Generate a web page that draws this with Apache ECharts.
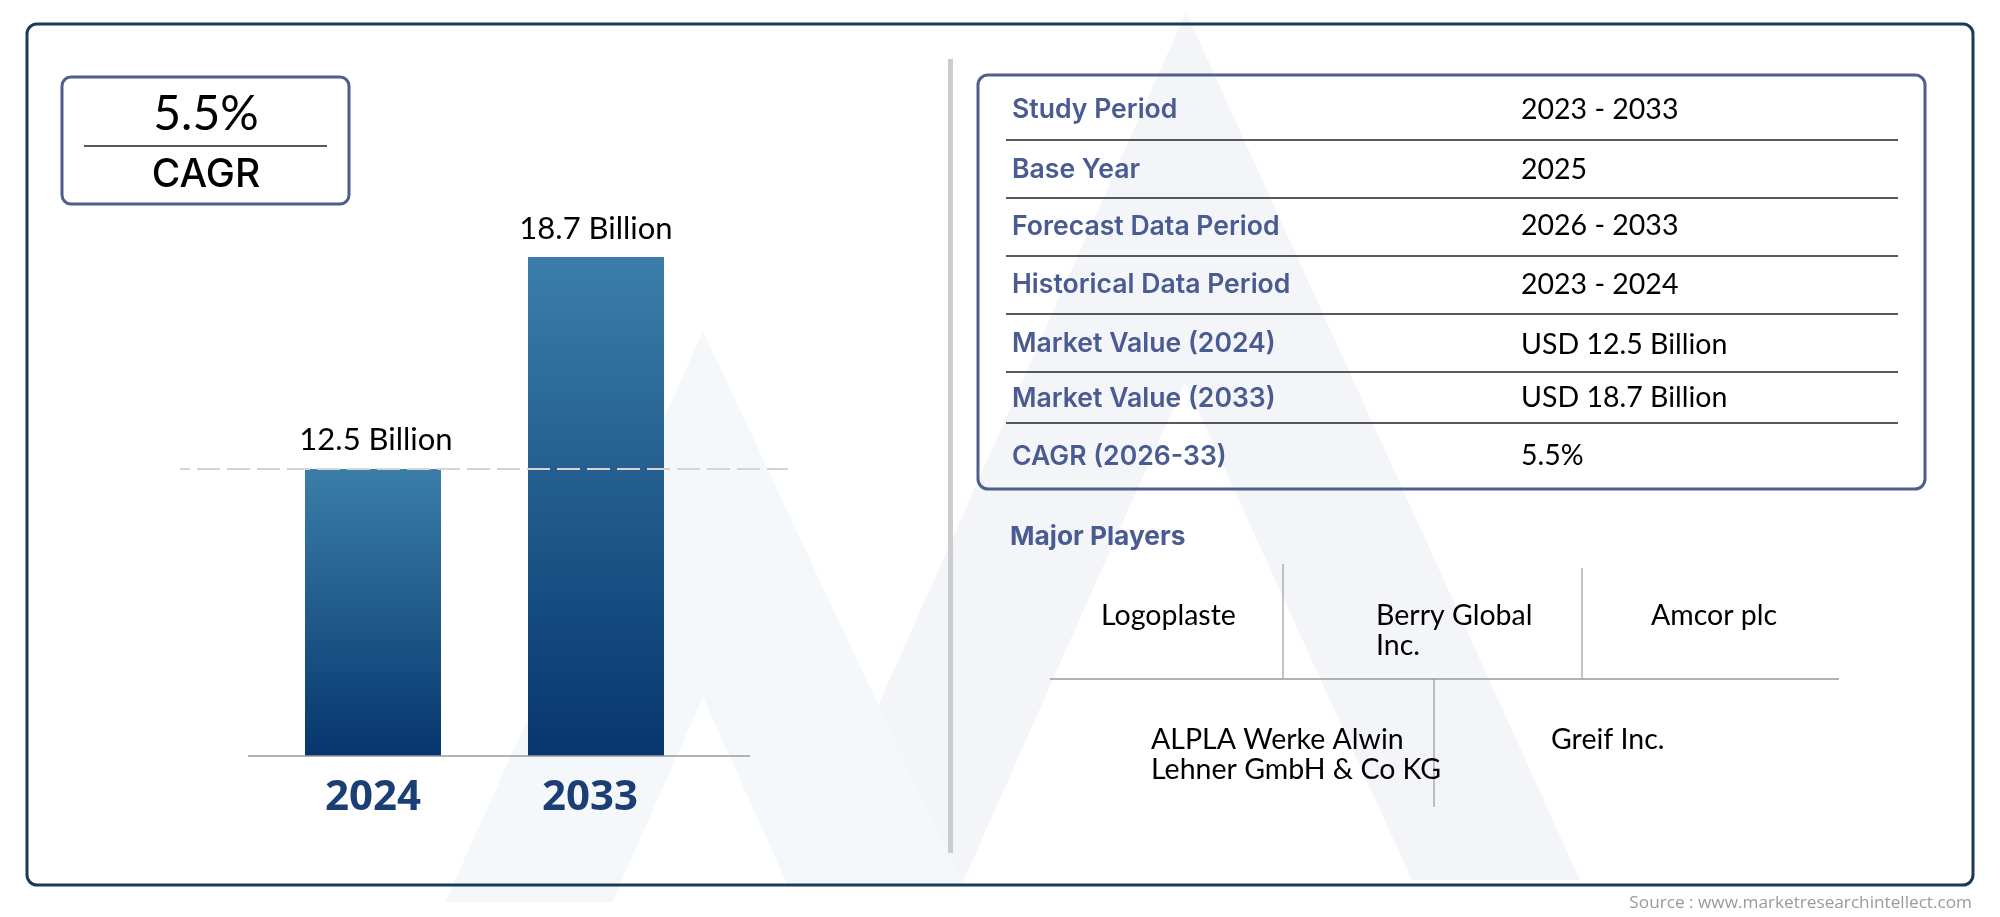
<!DOCTYPE html>
<html>
<head>
<meta charset="utf-8">
<title>Market chart</title>
<script src="https://cdn.jsdelivr.net/npm/echarts@6/dist/echarts.min.js"></script>
<style>
html, body { margin: 0; padding: 0; background: #fff; }
#chart { width: 2000px; height: 917px; }
</style>
</head>
<body>
<div id="chart"></div>
<script>
const years = ['2024', '2033'];
const values = [12.5, 18.7];
const valueLabels = ['12.5 Billion', '18.7 Billion'];
const cagrValue = '5.5%';
const cagrTitle = 'CAGR';
const rowLabels = ['Study Period', 'Base Year', 'Forecast Data Period', 'Historical Data Period', 'Market Value (2024)', 'Market Value (2033)', 'CAGR (2026-33)'];
const rowValues = ['2023 - 2033', '2025', '2026 - 2033', '2023 - 2024', 'USD 12.5 Billion', 'USD 18.7 Billion', '5.5%'];
const playersTitle = 'Major Players';
const players = ['Logoplaste', 'Berry Global\nInc.', 'Amcor plc', 'ALPLA Werke Alwin\nLehner GmbH & Co KG', 'Greif Inc.'];
const sourceText = 'Source : www.marketresearchintellect.com';

// layout
const labelY = [110, 170, 227, 285, 344, 399, 457];
const valueY = [110, 170, 226, 285, 345, 398, 456];
const ruleY = [140, 198, 256, 314, 372, 423];
const playerX = [1101, 1376, 1651, 1151, 1551];
const playerY = [616, 616, 616, 740, 740];

const JOST = 'Lato, sans-serif';
const MONT = 'Inter, sans-serif';
const FRAME = '#1b3a55';
const BOX = '#4f5f8c';
const LABEL = '#4a5b92';

function line(x1, y1, x2, y2, stroke, lineWidth) {
    return { type: 'line', z: 1, shape: { x1, y1, x2, y2 }, style: { stroke, lineWidth } };
}
function text(x, y, str, font, fontSize, fontWeight, fill, align) {
    return {
        type: 'text', z: 3, x, y,
        style: { text: str, fontFamily: font, fontSize, fontWeight, fill, align: align || 'left', verticalAlign: 'middle', lineHeight: 30 }
    };
}
function box(x, y, width, height, r, stroke, lineWidth) {
    return { type: 'rect', z: 1, shape: { x, y, width, height, r }, style: { fill: 'transparent', stroke, lineWidth } };
}
function wash(points, fill, z) {
    return { type: 'polygon', z, shape: { points }, style: { fill } };
}

const graphics = [
    wash([[1186, 12], [799, 884], [962, 884], [1185, 382], [1412, 880], [1580, 880]], '#f3f5f9', -11),
    wash([[703, 331], [445, 902], [612, 902], [703, 697], [787, 884], [962, 884]], '#f5f8fb', -10),
    box(27, 24, 1946, 861, 10, FRAME, 3),
    box(62, 77, 287, 127, 9, BOX, 3),
    line(84, 146, 327, 146, '#222', 1.5),
    text(206, 115, cagrValue, JOST, 48, 400, '#000', 'center'),
    text(206, 175, cagrTitle, MONT, 39, 500, '#000', 'center'),
    line(950.5, 59, 950.5, 853, '#cbcdcc', 5),
    box(978, 75, 947, 414, 10, BOX, 3),
    text(1010, 537, playersTitle, MONT, 26.3, 700, LABEL),
    line(1050, 679, 1839, 679, '#999', 1.5),
    line(1283, 564, 1283, 678, '#888', 1),
    line(1582, 568, 1582, 678, '#888', 1),
    line(1434, 679, 1434, 807, '#888', 1),
    text(1972, 903, sourceText, 'Open Sans, sans-serif', 17.2, 400, '#9a9a9a', 'right')
];
ruleY.forEach(y => graphics.push(line(1006, y, 1898, y, '#222', 1.5)));
rowLabels.forEach((s, i) => graphics.push(text(1012, labelY[i], s, MONT, 26.6, 600, LABEL)));
rowValues.forEach((s, i) => graphics.push(text(1521, valueY[i], s, JOST, 28.5, 400, '#000')));
players.forEach((s, i) => graphics.push(text(playerX[i], playerY[i] + (s.includes('\n') ? 15 : 0), s, JOST, 28.5, 400, '#000')));

const yearStyle = { color: '#1b3f75', fontFamily: 'Open Sans', fontWeight: 700, fontSize: 42 };

const chart = echarts.init(document.getElementById('chart'));
chart.setOption({
    backgroundColor: '#fff',
    animation: false,
    graphic: { elements: graphics },
    grid: { left: 261.5, width: 446, top: 257, bottom: 161 },
    xAxis: {
        type: 'category',
        data: years,
        axisLine: { show: false },
        axisTick: { show: false },
        axisLabel: {
            ...yearStyle,
            interval: 0,
            margin: 21,
            // the 2033 label sits a little left of its bar in the original
            formatter: v => (v === years[1] ? `{shift|${v}}` : `{plain|${v}}`),
            rich: {
                plain: { ...yearStyle },
                shift: { ...yearStyle, padding: [0, 12, 0, 0] }
            }
        }
    },
    yAxis: { type: 'value', min: 4.1, max: 18.7, show: false, splitLine: { show: false } },
    series: [{
        type: 'bar',
        data: values.map((v, i) => (i === 0 ? { value: v, label: { offset: [3, 0] } } : v)),
        barWidth: 136,
        itemStyle: {
            color: new echarts.graphic.LinearGradient(0, 0, 0, 1, [
                { offset: 0, color: '#3b7ea9' },
                { offset: 1, color: '#06366d' }
            ])
        },
        label: {
            show: true,
            position: 'top',
            distance: 13,
            color: '#000',
            fontFamily: JOST,
            fontSize: 31,
            formatter: p => valueLabels[p.dataIndex]
        },
        markLine: {
            silent: true,
            symbol: 'none',
            label: { show: false },
            data: [
                [
                    { x: 180, yAxis: values[0], lineStyle: { color: '#d4d4d4', width: 2, type: [23, 7], dashOffset: 13 } },
                    { x: 788, yAxis: values[0] }
                ],
                [
                    { x: 248, yAxis: 4.1, lineStyle: { color: '#9a9a9a', width: 1.5, type: 'solid' } },
                    { x: 750, yAxis: 4.1 }
                ]
            ]
        }
    }]
});
</script>
</body>
</html>
